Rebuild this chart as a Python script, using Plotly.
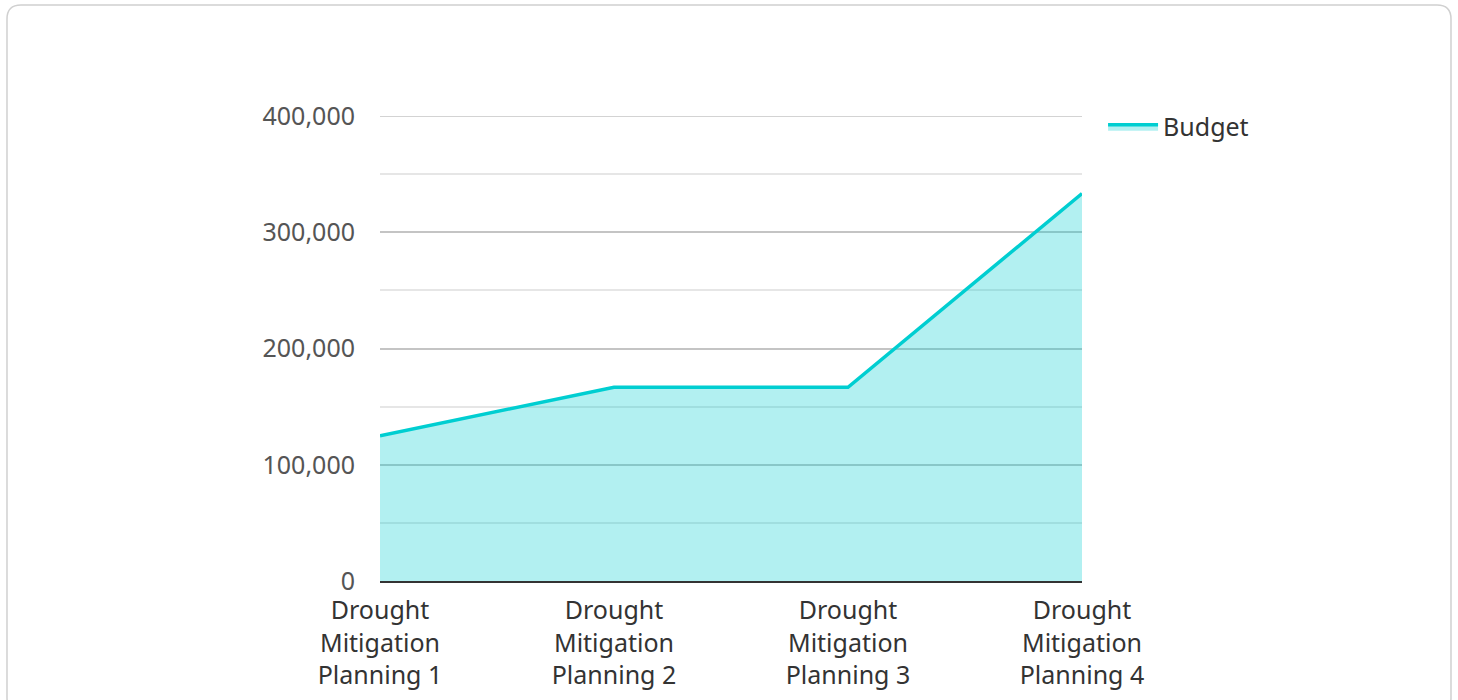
import plotly.graph_objects as go

categories = [
    "Drought<br>Mitigation<br>Planning 1",
    "Drought<br>Mitigation<br>Planning 2",
    "Drought<br>Mitigation<br>Planning 3",
    "Drought<br>Mitigation<br>Planning 4",
]
budget = [125000, 166667, 166667, 333333]
y_ticks = [0, 100000, 200000, 300000, 400000]
y_tick_text = ["0", "100,000", "200,000", "300,000", "400,000"]

W, H = 1458, 700
L, R, T, B = 380, 1082, 116, 581


def px2paper(x, y):
    return (x - L) / (R - L), (B - y) / (B - T)


# rounded card outline
x0, y0, x1, y1, r = 7, 5, 1451, 712, 14
def P(x, y):
    px, py = px2paper(x, y)
    return f"{px:.5f},{py:.5f}"
card_path = (
    f"M {P(x0 + r, y0)} L {P(x1 - r, y0)} Q {P(x1, y0)} {P(x1, y0 + r)} "
    f"L {P(x1, y1 - r)} Q {P(x1, y1)} {P(x1 - r, y1)} "
    f"L {P(x0 + r, y1)} Q {P(x0, y1)} {P(x0, y1 - r)} "
    f"L {P(x0, y0 + r)} Q {P(x0, y0)} {P(x0 + r, y0)} Z"
)

fig = go.Figure()
fig.add_trace(go.Scatter(
    x=categories,
    y=budget,
    mode="lines",
    name="Budget",
    line=dict(color="#00CED1", width=3.5),
    fill="tozeroy",
    fillcolor="rgba(0,206,209,0.3)",
))

fig.update_layout(
    width=W,
    height=H,
    margin=dict(l=L, r=W - R, t=T, b=H - B),
    paper_bgcolor="white",
    plot_bgcolor="white",
    font=dict(family="Noto Sans, Open Sans, sans-serif", size=25, color="#333"),
    showlegend=True,
    legend=dict(
        x=1.03, y=1.026, xanchor="left", yanchor="top",
        font=dict(size=25, color="#333"),
        bgcolor="rgba(0,0,0,0)",
        itemwidth=50,
    ),
    shapes=[
        dict(
            type="path", path=card_path, xref="paper", yref="paper",
            line=dict(color="#d0d0d0", width=1.5), fillcolor="rgba(0,0,0,0)",
            layer="below",
        ),
        dict(
            type="line", xref="paper", yref="y", x0=0, x1=1,
            y0=y_ticks[-1], y1=y_ticks[-1],
            line=dict(color="#c4c4c4", width=1.5), layer="below",
        ),
    ],
)

fig.update_xaxes(
    type="category",
    range=[0, 3],
    automargin=False,
    showgrid=False,
    showline=True,
    linecolor="#333",
    linewidth=2,
    layer="above traces",
    zeroline=False,
    ticks="",
    ticklabelstandoff=6,
    tickfont=dict(size=25, color="#333"),
)
fig.update_yaxes(
    range=[0, 400000],
    automargin=False,
    tickvals=y_ticks,
    ticktext=y_tick_text,
    showgrid=True,
    gridcolor="#c4c4c4",
    gridwidth=1.5,
    minor=dict(dtick=50000, tick0=0, showgrid=True, gridcolor="#e6e6e6", gridwidth=1.5),
    zeroline=False,
    showline=False,
    ticks="",
    ticklabelstandoff=24,
    tickfont=dict(size=25, color="#555"),
)

fig.write_html("out.html")
